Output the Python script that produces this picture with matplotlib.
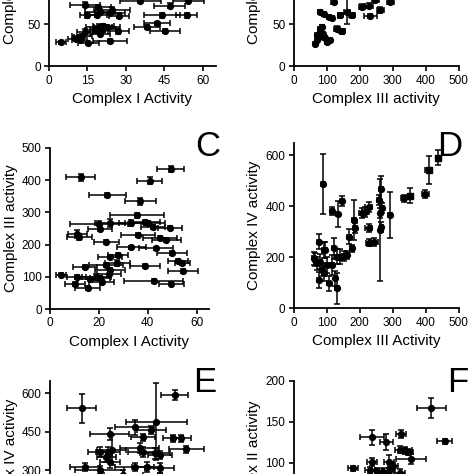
import matplotlib
matplotlib.use("Agg")
import matplotlib.pyplot as plt

plt.rcParams['font.family'] = ['Liberation Sans', 'DejaVu Sans']

# ---------------- data ----------------
# Panel A: Complex I activity vs Complex II activity
a_x = [4.7, 10.5, 11.7, 12.8, 15.3, 23.8, 14.0, 17.9, 19.6, 21.2, 22.7, 19.9, 27.0,
       38.3, 42.2, 45.2, 43.9, 53.6, 15.0, 18.6, 19.9, 27.3, 23.8, 14.0, 19.2, 24.4,
       47.1, 54.3, 35.5, 12.0, 21.0]
a_y = [28.6, 32, 34.5, 36, 27.4, 30.2, 41, 43, 47, 48, 47, 39, 42,
       47, 51, 42, 61, 61, 61, 61, 65, 60, 63, 73, 71, 67,
       72, 78, 78, 31, 45]
a_xe = [1.8, 3, 2, 4, 4, 6.5, 3, 4, 5, 4, 5, 4, 4,
        5, 5, 6, 7, 4, 3, 4, 6, 4, 6, 6, 5, 7,
        6, 6, 8, 3, 5]
a_ye = [2, 2, 2, 2, 2, 2, 3, 2, 3, 2, 2, 2, 3,
        2, 2, 2, 3, 3, 3, 2, 3, 3, 2, 3, 2, 3,
        3, 3, 3, 2, 2]

# Panel B: Complex III activity vs Complex II activity
b_x = [66, 72, 76, 81, 86, 80, 90, 101, 111, 81, 93, 106, 116, 131, 146,
       141, 162, 177, 207, 227, 232, 263, 293, 121, 247, 70, 95]
b_y = [27, 31, 35, 41, 47, 44, 38, 29, 31, 65, 62, 59, 58, 45, 42,
       61, 65, 61, 71, 72, 60, 67, 77, 77, 79, 37, 34]
b_xe = [5, 5, 5, 5, 5, 5, 5, 6, 6, 6, 6, 6, 6, 8, 8,
        8, 10, 10, 10, 12, 20, 10, 10, 8, 10, 5, 5]
b_ye = [2, 2, 2, 2, 2, 2, 2, 2, 2, 2, 2, 2, 2, 3, 3,
        3, 15, 3, 3, 3, 2, 3, 3, 3, 3, 2, 2]

# Panel C: Complex I activity vs Complex III activity
c_x = [49.4, 12.5, 40.8, 23.5, 37.0, 35.6, 20.0, 24.5, 33.3, 38.8, 40.0, 42.2, 49.0,
       20.4, 11.2, 12.0, 23.1, 36.0, 44.9, 47.6, 33.3, 43.5, 49.9, 27.9, 24.5,
       14.3, 22.9, 27.6, 38.8, 52.4, 54.1, 4.4, 54.4, 10.9, 16.3, 19.0, 20.4,
       24.5, 24.2, 21.1, 42.4, 49.7, 15.4, 10.2]
c_y = [435, 409, 399, 355, 334, 291, 265, 268, 267, 270, 267, 255, 253,
       247, 232, 224, 208, 229, 222, 213, 191, 188, 174, 167, 162,
       131, 136, 143, 133, 149, 144, 107, 119, 100, 93, 100, 95,
       121, 110, 85, 88, 79, 64, 77]
c_xe = [5.6, 6, 5.2, 7.6, 6.5, 11, 12, 6, 5, 6, 7, 5, 5,
        5, 4, 5, 5, 7, 7, 6, 6, 7, 6, 4, 5,
        5, 7, 5, 6, 4, 3, 2, 6, 4, 5, 6, 4,
        6, 5, 5, 12, 5, 5, 4]
c_ye = [8, 10, 10, 6, 10, 8, 8, 12, 10, 6, 6, 6, 6,
        6, 12, 10, 6, 6, 6, 6, 6, 6, 6, 6, 6,
        6, 6, 10, 6, 6, 6, 6, 6, 6, 6, 10, 6,
        6, 10, 6, 6, 6, 6, 6]

# Panel D: Complex III activity vs Complex IV activity
d_x = [437, 409, 399, 353, 333, 89, 146, 116, 133, 265, 258, 268, 263, 266, 263, 291,
       227, 217, 207, 227, 242, 227, 187, 182, 167, 177, 162,
       61, 76, 81, 76, 91, 101, 106, 116, 121, 126, 131, 96, 131, 141, 152, 86, 71, 91, 66]
d_y = [591, 542, 448, 441, 431, 488, 422, 382, 369, 467, 425, 392, 373, 320, 307, 366,
       396, 379, 373, 314, 259, 258, 314, 346, 281, 235, 209,
       196, 261, 183, 111, 137, 170, 98, 170, 235, 118, 78, 229, 203, 203, 205, 150, 176, 229, 190]
d_xe = [6, 10, 10, 8, 8, 5, 6, 6, 5, 6, 6, 6, 6, 6, 6, 6,
        10, 10, 10, 10, 12, 8, 6, 6, 6, 6, 6,
        5, 5, 5, 5, 5, 5, 5, 5, 5, 5, 5, 5, 6, 6, 6, 5, 5, 5, 5]
d_ye = [28, 55, 15, 30, 15, 118, 20, 15, 50, 50, 20, 20, 20, 20, 200, 90,
        20, 20, 20, 15, 15, 15, 20, 80, 30, 15, 15,
        25, 30, 30, 30, 30, 30, 30, 40, 40, 30, 60, 30, 30, 30, 20, 25, 25, 30, 25]
d_square = [0, 1, 3]

# Panel E: Complex I activity vs Complex IV activity
e_x = [51.0, 12.9, 43.5, 34.7, 41.5, 24.5, 38.0, 50.3, 53.7, 55.8, 36.7, 38.0, 42.9,
       44.9, 23.8, 25.2, 23.1, 24.5, 20.4, 14.3, 20.4, 34.7, 39.5, 44.9, 30.0, 45.0]
e_y = [593, 541, 489, 467, 457, 441, 428, 424, 424, 381, 385, 372, 365,
       359, 372, 378, 352, 333, 372, 311, 300, 313, 313, 307, 280, 270]
e_xe = [5.4, 6, 12.6, 8, 6, 8, 5, 4, 4, 7, 8, 6, 6,
        5, 5, 6, 4, 4, 5, 6, 10, 8, 6, 6, 8, 6]
e_ye = [20, 55, 150, 30, 15, 25, 15, 15, 15, 15, 20, 20, 20,
        15, 20, 60, 20, 25, 20, 15, 15, 15, 20, 20, 20, 20]

# Panel F: Complex III activity vs Complex II activity
f_x = [417, 457, 325, 237, 280, 323, 338, 345, 356, 237, 288, 180, 232, 252, 272, 288, 323, 300]
f_y = [167, 126, 135, 131, 125, 116, 115, 113, 105, 101, 101, 93, 91, 90, 89, 90, 88, 96]
f_xe = [43, 22, 15, 36, 20, 15, 20, 15, 45, 15, 15, 15, 15, 15, 15, 15, 15, 15]
f_ye = [12, 3, 5, 9, 10, 4, 4, 4, 6, 5, 8, 3, 4, 4, 4, 4, 4, 4]

# ---------------- layout helpers ----------------
W = H = 474.0
fig = plt.figure(figsize=(4.74, 4.74), dpi=100)


def add_ax(x0, x1, ybot, ytop):
    return fig.add_axes([x0 / W, 1 - ybot / H, (x1 - x0) / W, (ybot - ytop) / H])


def style(ax, xlim, ylim, xt, yt, xlabel, ylabel):
    ax.set_xlim(*xlim)
    ax.set_ylim(*ylim)
    ax.set_xticks(xt)
    ax.set_yticks(yt)
    for s in ['top', 'right']:
        ax.spines[s].set_visible(False)
    for s in ['left', 'bottom']:
        ax.spines[s].set_linewidth(1.3)
    ax.tick_params(direction='out', length=3.5, width=1.2, labelsize=8.5, pad=2.5)
    ax.set_xlabel(xlabel, fontsize=11, labelpad=4)
    ax.set_ylabel(ylabel, fontsize=11, labelpad=3)
    ax.patch.set_alpha(0)


def draw(ax, x, y, xe, ye, squares=()):
    kw = dict(fmt='none', ecolor='black', elinewidth=1.1, capsize=2.2, capthick=1.1)
    ax.errorbar(x, y, xerr=xe, yerr=ye, **kw)
    cx = [v for i, v in enumerate(x) if i not in squares]
    cy = [v for i, v in enumerate(y) if i not in squares]
    ax.plot(cx, cy, 'o', color='black', ms=4.2, clip_on=False)
    if squares:
        sx = [x[i] for i in squares]
        sy = [y[i] for i in squares]
        ax.plot(sx, sy, 's', color='black', ms=4.2, clip_on=False)


axA = add_ax(49, 215.8, 66.3, 66.3 - 200 * 0.84)
style(axA, (0, 65), (0, 200), [0, 15, 30, 45, 60], [0, 50, 100, 150, 200],
      'Complex I Activity', 'Complex II activity')
draw(axA, a_x, a_y, a_xe, a_ye)

axB = add_ax(293.7, 458.7, 66.3, 66.3 - 200 * 0.84)
style(axB, (0, 500), (0, 200), [0, 100, 200, 300, 400, 500], [0, 50, 100, 150, 200],
      'Complex III activity', 'Complex II activity')
draw(axB, b_x, b_y, b_xe, b_ye)

axC = add_ax(50, 208.9, 309, 148)
style(axC, (0, 65), (0, 500), [0, 20, 40, 60], [0, 100, 200, 300, 400, 500],
      'Complex I Activity', 'Complex III activity')
draw(axC, c_x, c_y, c_xe, c_ye)

axD = add_ax(293.7, 458.7, 308.3, 308.3 - 650 * 0.255)
style(axD, (0, 500), (0, 650), [0, 100, 200, 300, 400, 500], [0, 200, 400, 600],
      'Complex III Activity', 'Complex IV activity')
draw(axD, d_x, d_y, d_xe, d_ye, squares=d_square)

axE = add_ax(50, 208.9, 546.6, 546.6 - 650 * 0.2553)
style(axE, (0, 65), (0, 650), [0, 20, 40, 60], [0, 150, 300, 450, 600],
      'Complex I Activity', 'Complex IV activity')
draw(axE, e_x, e_y, e_xe, e_ye)

axF = add_ax(293.7, 458.7, 544.7, 380.7)
style(axF, (0, 500), (0, 200), [0, 100, 200, 300, 400, 500], [0, 50, 100, 150, 200],
      'Complex III Activity', 'Complex II activity')
draw(axF, f_x, f_y, f_xe, f_ye)

# panel letters
for lab, px, py in [('C', 208, 146), ('D', 450, 146), ('E', 205, 383), ('F', 458, 383)]:
    fig.text(px / W, 1 - py / H, lab, fontsize=25, ha='center', va='center')

fig.savefig('out.png', dpi=100)
